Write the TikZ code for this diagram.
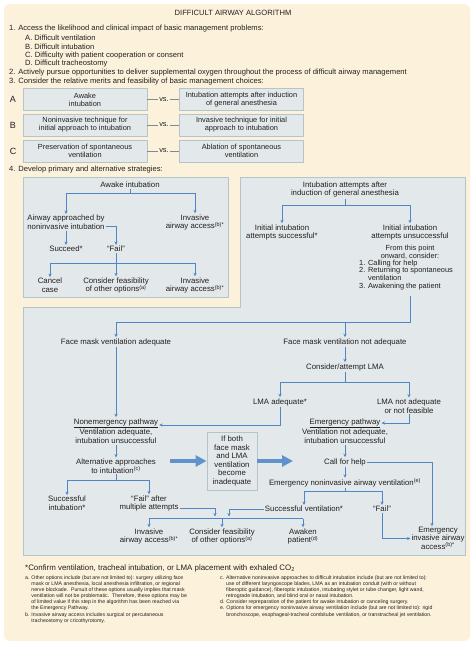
\documentclass[tikz,border=0pt]{standalone}
\usepackage{fontspec}
\setmainfont{Liberation Sans}
\usepackage{tikz}
\usetikzlibrary{arrows.meta,positioning}
\definecolor{cream}{HTML}{FCF2DC}
\definecolor{boxfill}{HTML}{E3E9EA}
\definecolor{boxedge}{HTML}{B3C5CA}
\definecolor{flowblue}{HTML}{4F86C6}
\definecolor{inkx}{HTML}{231F20}
\tikzset{
  ar/.style={-{Stealth[length=3.4pt,width=3.2pt]},line width=0.6pt,flowblue},
  ln/.style={line width=0.6pt,flowblue},
  txt/.style={align=center,inner sep=1pt,text=inkx,font=\fontsize{7.8}{8.8}\selectfont},
  lst/.style={anchor=west,inner sep=0pt,text=inkx,font=\fontsize{7.6}{8.8}\selectfont},
  choice/.style={draw=boxedge,fill=boxfill,line width=0.9pt,minimum width=124pt,minimum height=22pt,align=center,inner sep=1pt,text=inkx,font=\fontsize{7.4}{8}\selectfont},
  vsl/.style={line width=0.6pt,boxedge!70!black},
  panel/.style={draw=boxedge,fill=boxfill,line width=0.9pt},
  fat/.style={-{Triangle[length=11pt,width=11pt]},line width=3.4pt,flowblue!90},
  note/.style={anchor=north west,align=left,inner sep=0pt,text=inkx,font=\fontsize{5.2}{6.1}\selectfont}
}
\begin{document}
\begin{tikzpicture}[x=1pt,y=-1pt]
\useasboundingbox (0,0) rectangle (474,645);
\fill[cream,rounded corners=6pt] (4,4) rectangle (470,641);
\node[txt,font=\fontsize{7.6}{9}\selectfont] (title) at (233,13) {DIFFICULT AIRWAY ALGORITHM};
% steps 1-3
\node[lst] (s1) at (9,29) {1. Access the likelihood and clinical impact of basic management problems:};
\node[lst] (s1a) at (25,38) {A. Difficult ventilation};
\node[lst] (s1b) at (25,47) {B. Difficult intubation};
\node[lst] (s1c) at (25,56) {C. Difficulty with patient cooperation or consent};
\node[lst] (s1d) at (25,64) {D. Difficult tracheostomy};
\node[lst] (s2) at (9,73) {2. Actively pursue opportunities to deliver supplemental oxygen throughout the process of difficult airway management};
\node[lst] (s3) at (9,82) {3. Consider the relative merits and feasibility of basic management choices:};
% choices A-C
\node[txt,font=\fontsize{9}{9}\selectfont] (la) at (13,99.5) {A};
\node[choice] (ca1) at (85,99.5) {Awake\\intubation};
\node[choice] (ca2) at (241.5,99.5) {Intubation attempts after induction\\of general anesthesia};
\node[txt,font=\fontsize{7.4}{8}\selectfont] (vsa) at (164,99.5) {vs.};
\draw[vsl] (ca1.east) -- (vsa.west) (vsa.east) -- (ca2.west);
\node[txt,font=\fontsize{9}{9}\selectfont] (lb) at (13,125) {B};
\node[choice] (cb1) at (85,125) {Noninvasive technique for\\initial approach to intubation};
\node[choice] (cb2) at (241.5,125) {Invasive technique for initial\\approach to intubation};
\node[txt,font=\fontsize{7.4}{8}\selectfont] (vsb) at (164,125) {vs.};
\draw[vsl] (cb1.east) -- (vsb.west) (vsb.east) -- (cb2.west);
\node[txt,font=\fontsize{9}{9}\selectfont] (lc) at (13,151) {C};
\node[choice] (cc1) at (85,151) {Preservation of spontaneous\\ventilation};
\node[choice] (cc2) at (241.5,151) {Ablation of spontaneous\\ventilation};
\node[txt,font=\fontsize{7.4}{8}\selectfont] (vsc) at (164,151) {vs.};
\draw[vsl] (cc1.east) -- (vsc.west) (vsc.east) -- (cc2.west);
\node[lst] (s4) at (9,170) {4. Develop primary and alternative strategies:};
% panels
\draw[panel] (23,177) rectangle (228,297);
\draw[panel] (240,177) -- (465,177) -- (465,555) -- (23,555) -- (23,307) -- (240,307) -- cycle;
% awake intubation
\node[txt] (aw) at (130,185) {Awake intubation};
\node[txt] (anv) at (66,222.5) {Airway approached by\\noninvasive intubation};
\node[txt] (ainv) at (195,222.5) {Invasive\\airway access\textsuperscript{(b)*}};
\node[txt] (asuc) at (66,249) {Succeed*};
\node[txt] (afail) at (116,249) {“Fail”};
\node[txt] (acan) at (50,285.5) {Cancel\\case};
\node[txt] (acon) at (116,285.5) {Consider feasibility\\of other options\textsuperscript{(a)}};
\node[txt] (ainv2) at (195,285.5) {Invasive\\airway access\textsuperscript{(b)*}};
\draw[ln] (aw.south) -- (130,193) coordinate (awj);
\draw[ar] (awj) -| (anv.north);
\draw[ar] (awj) -| (ainv.north);
\draw[ar] ([yshift=-4pt]anv.east) -| (afail.north);
\draw[ar] (anv.south) -- (asuc.north);
\draw[ln] (afail.south) -- (116,263) coordinate (afj);
\draw[ar] (afj) -| (acan.north);
\draw[ar] (afj) -- (acon.north);
\draw[ar] (afj) -| (ainv2.north);
% induction
\node[txt] (ind) at (345,189.5) {Intubation attempts after\\induction of general anesthesia};
\node[txt] (isuc) at (282,232.5) {Initial intubation\\attempts successful*};
\node[txt] (iuns) at (410,232.5) {Initial intubation\\attempts unsuccessful};
\node[txt,font=\fontsize{7.4}{8}\selectfont] (ifrom) at (410,252) {From this point\\onward, consider:};
\node[txt,align=left,anchor=north west,inner sep=0pt,font=\fontsize{7.4}{7.7}\selectfont] (ilist) at (359,259.5) {1. Calling for help\\2. Returning to spontaneous\\\phantom{2. }ventilation\\3. Awakening the patient};
\draw[ln] (ind.south) -- (345,205) coordinate (indj);
\draw[ar] (indj) -| (isuc.north);
\draw[ar] (indj) -| (iuns.north);
\coordinate (tj) at (410,322);
\node[txt] (fma) at (116,342) {Face mask ventilation adequate};
\node[txt] (fmn) at (345,342) {Face mask ventilation not adequate};
\draw[ar] ([yshift=-6pt]iuns |- ilist.south) -- (tj) -| (fma.north);
\draw[ar] (fmn.north |- tj) -- (fmn.north);
% LMA
\node[txt] (lma) at (345,367) {Consider/attempt LMA};
\node[txt] (lmay) at (280,402) {LMA adequate*};
\node[txt] (lman) at (409,406) {LMA not adequate\\or not feasible};
\node[txt] (nept) at (116,423) {\underline{Nonemergency pathway}};
\node[txt] (nepb) at (116,436.5) {Ventilation adequate,\\intubation unsuccessful};
\node[txt] (empt) at (345,423) {\underline{Emergency pathway}};
\node[txt] (empb) at (345,436.5) {Ventilation not adequate,\\intubation unsuccessful};
\draw[ar] (fma.south) -- (nept.north);
\draw[ar] (fmn.south) -- (lma.north);
\draw[ln] (lma.south) -- (345,382) coordinate (lmj);
\draw[ar] (lmj) -| (lmay.north);
\draw[ar] (lmj) -| (lman.north);
\draw[ar] (lmay.south) |- ([yshift=-2pt]nept.east);
\draw[ar] (lman.south) |- (empt.east);
% nonemergency pathway
\node[txt] (alt) at (116,466) {Alternative approaches\\to intubation\textsuperscript{(c)}};
\node[txt] (sint) at (67,503.5) {Successful\\intubation*};
\node[txt] (fmul) at (149,503.5) {“Fail” after\\multiple attempts};
\draw[ar] (nepb.south) -- (alt.north);
\draw[ln] (alt.south) -- (116,480) coordinate (altj);
\draw[ar] (altj) -| (sint.north);
\draw[ar] (altj) -| (fmul.north);
% both inadequate
\node[txt,draw=boxedge,fill=boxfill,line width=0.9pt,minimum width=50pt,minimum height=58pt,font=\fontsize{7.8}{8.6}\selectfont] (ifb) at (232,461) {If both\\face mask\\and LMA\\ventilation\\become\\inadequate};
\coordinate (fat1) at (170,461);
\coordinate (fat2) at (293,461);
\draw[fat] (fat1) -- (ifb.west);
\draw[fat] (ifb.east) -- (fat2);
% emergency pathway
\node[txt] (cfh) at (345,462) {Call for help};
\node[txt] (env) at (345,483) {Emergency noninvasive airway ventilation\textsuperscript{(e)}};
\node[txt] (sven) at (304,509) {Successful ventilation*};
\node[txt] (efail) at (382,509) {“Fail”};
\node[txt,font=\fontsize{7.8}{7.3}\selectfont] (eia) at (438,538.5) {Emergency\\invasive airway\\access\textsuperscript{(b)*}};
\draw[ar] (empb.south) -- (cfh.north);
\draw[ar] (cfh.south) -- (env.north);
\draw[ln] (env.south) -- (345,491) coordinate (envj);
\draw[ar] (envj) -| (sven.north);
\draw[ar] (envj) -| (efail.north);
\draw[ar] (cfh.east) -| ([xshift=-6pt]eia.north);
\draw[ar] (efail.south) |- (eia.west);
% common outcomes
\node[txt] (iac) at (149,536.5) {Invasive\\airway access\textsuperscript{(b)*}};
\node[txt] (ocf) at (222,536.5) {Consider feasibility\\of other options\textsuperscript{(a)}};
\node[txt] (awk) at (303,536.5) {Awaken\\patient\textsuperscript{(d)}};
\coordinate (fb1) at (215,516.5);
\coordinate (fb2) at (229,516.5);
\coordinate (barl) at (149,518.5);
\coordinate (barm) at (222,518.5);
\coordinate (barr) at (303,518.5);
\draw[ar] ([yshift=-4.5pt]fmul.east) -| (fb1);
\draw[ar] (sven.west) -| (fb2);
\draw[ln] (barl) -- (barr);
\draw[ar] (barl) -- (iac.north);
\draw[ar] (barm) -- (ocf.north);
\draw[ar] (barr) -- (awk.north);
% notes
\node[lst,font=\fontsize{7.9}{9}\selectfont] (conf) at (25,568) {*Confirm ventilation, tracheal intubation, or LMA placement with exhaled CO\textsubscript{2}};
\node[note] (fna) at (25,575.5) {a. Other options include (but are not limited to): surgery utilizing face\\
\phantom{a. }mask or LMA anesthesia, local anesthesia infiltration, or regional\\
\phantom{a. }nerve blockade.\ \ Pursuit of these options usually implies that mask\\
\phantom{a. }ventilation will not be problematic.\ \ Therefore, these options may be\\
\phantom{a. }of limited value if this step in the algorithm has been reached via\\
\phantom{a. }the Emergency Pathway.\\
b. Invasive airway access includes surgical or percutaneous\\
\phantom{b. }tracheostomy or cricothyrotomy.};
\node[note] (fnc) at (220,575.5) {c. Alternative noninvasive approaches to difficult intubation include (but are not limited to):\\
\phantom{c. }use of different laryngoscope blades, LMA as an intubation conduit (with or without\\
\phantom{c. }fiberoptic guidance), fiberoptic intubation, intubating stylet or tube changer, light wand,\\
\phantom{c. }retrograde intubation, and blind oral or nasal intubation.\\
d. Consider repreparation of the patient for awake intubation or canceling surgery.\\
e. Options for emergency noninvasive airway ventilation include (but are not limited to): rigid\\
\phantom{e. }bronchoscope, esophageal-tracheal combitube ventilation, or transtracheal jet ventilation.};
\end{tikzpicture}
\end{document}
